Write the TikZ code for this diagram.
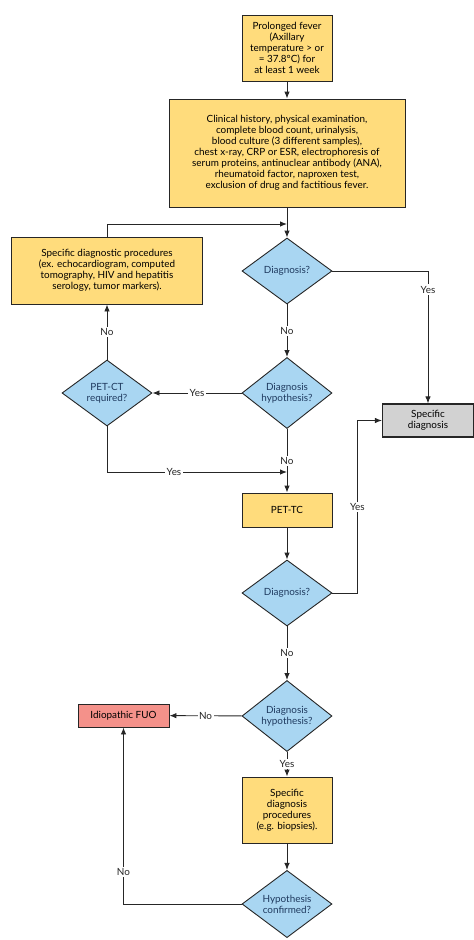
\documentclass[tikz,border=0pt]{standalone}
\usepackage{fontspec}
\setmainfont{Lato}
\usepackage{xcolor}
\usetikzlibrary{shapes.geometric, arrows.meta}

\definecolor{boxyellow}{HTML}{FFDC7C}
\definecolor{diamblue}{HTML}{A9D6F2}
\definecolor{diamtext}{HTML}{1F3A5F}
\definecolor{boxgray}{HTML}{D2D2D2}
\definecolor{boxred}{HTML}{F4918A}

\begin{document}
\begin{tikzpicture}[x=1pt,y=-1pt,
    font=\fontsize{9.9}{11}\selectfont,
    stepbox/.style={draw=black!85, line width=0.9pt, fill=boxyellow, align=center, inner sep=1pt},
    question/.style={diamond, draw=black!85, line width=0.9pt, fill=diamblue, text=diamtext,
      align=center, inner sep=0pt, minimum width=90pt, minimum height=66pt},
    arr/.style={-{Latex[length=7pt,width=5.5pt]}, line width=0.9pt, black!85},
    lbl/.style={fill=white, inner sep=1.5pt, text=black!85}]
    \useasboundingbox (0,0) rectangle (474,940);

    % Start and first examinations
    \node[stepbox, minimum width=90pt, minimum height=66pt] (fever) at (287,48)
      {Prolonged fever\\(Axillary\\temperature > or\\= 37.8°C) for\\at least 1 week};
    \node[stepbox, minimum width=236pt, minimum height=108pt] (tests) at (287,153)
      {Clinical history, physical examination,\\complete blood count, urinalysis,\\
       blood culture (3 different samples),\\chest x-ray, CRP or ESR, electrophoresis of\\
       serum proteins, antinuclear antibody (ANA),\\rheumatoid factor, naproxen test,\\
       exclusion of drug and factitious fever.};

    % First decision level
    \node[question] (diag1) at (287,271) {Diagnosis?};
    \node[stepbox, minimum width=191pt, minimum height=67pt] (spec) at (107,270.5)
      {Specific diagnostic procedures\\(ex. echocardiogram, computed\\tomography, HIV and hepatitis\\serology, tumor markers).};
    \node[question] (hyp1) at (287,393) {Diagnosis\\hypothesis?};
    \node[question] (petq) at (107,393) {PET-CT\\required?};
    \node[stepbox, fill=boxgray, line width=1.2pt, minimum width=91pt, minimum height=33pt] (sdiag) at (428,420.5)
      {Specific\\diagnosis};

    % PET-TC branch
    \node[stepbox, minimum width=90pt, minimum height=34pt] (pettc) at (287,510) {PET-TC};
    \node[question] (diag2) at (287,593) {Diagnosis?};
    \node[question] (hyp2) at (287,716) {Diagnosis\\hypothesis?};
    \node[stepbox, fill=boxred, minimum width=91pt, minimum height=23pt] (fuo) at (123.5,715.5) {Idiopathic FUO};
    \node[stepbox, minimum width=90pt, minimum height=66pt] (sproc) at (287,810)
      {Specific\\diagnosis\\procedures\\(e.g. biopsies).};
    \node[question] (conf) at (287,904) {Hypothesis\\confirmed?};

    % Join points
    \coordinate (join1) at (287,224);
    \coordinate (join2) at (287,472);

    % Connectors
    \draw[arr] (fever) -- (tests);
    \draw[arr] (tests) -- (diag1);
    \draw[arr] (spec.north) |- (join1);
    \draw[arr] (diag1.east) -| node[lbl, pos=0.57] {Yes} (sdiag.north);
    \draw[arr] (diag1) -- node[lbl] {No} (hyp1);
    \draw[arr] (hyp1) -- node[lbl] {Yes} (petq);
    \draw[arr] (petq) -- node[lbl] {No} (spec);
    \draw[arr] (petq.south) |- node[lbl, pos=0.686] {Yes} (join2);
    \draw[arr] (hyp1) -- node[lbl] {No} (pettc);
    \draw[arr] (pettc) -- (diag2);
    \draw[arr] (diag2.east) -- ++(25,0) |- node[lbl, pos=0.25] {Yes} (sdiag.west);
    \draw[arr] (diag2) -- node[lbl] {No} (hyp2);
    \draw[arr] (hyp2) -- node[lbl] {No} (fuo);
    \draw[arr] (hyp2) -- node[lbl] {Yes} (sproc);
    \draw[arr] (sproc) -- (conf);
    \draw[arr] (conf.west) -| node[lbl, pos=0.59] {No} (fuo.south);
  \end{tikzpicture}
\end{document}
